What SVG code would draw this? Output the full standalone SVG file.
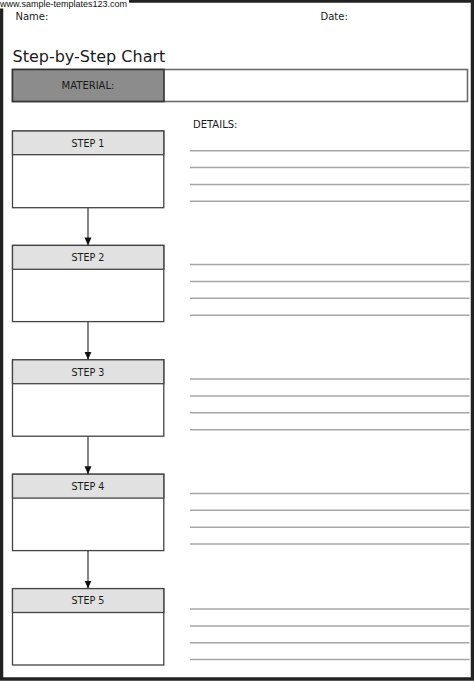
<svg xmlns="http://www.w3.org/2000/svg" width="474" height="681" viewBox="0 0 474 681">
<style>
.t{font-family:"DejaVu Sans",Verdana,sans-serif;fill:#1a1a1a}
.box{fill:#fff;stroke:#444;stroke-width:1.3}
.hdr{fill:#e1e1e1;stroke:#444;stroke-width:1.3}
.lbl{font-family:"DejaVu Sans",Verdana,sans-serif;font-size:9.6px;fill:#1a1a1a;text-anchor:middle}
.ln{stroke:#a6a6a6;stroke-width:1.5}
.conn{stroke:#333;stroke-width:1.2;fill:none}
</style>
<defs>
<marker id="ah" markerUnits="userSpaceOnUse" markerWidth="8" markerHeight="10" refX="8" refY="3.5" orient="auto">
<path d="M0,0 L8,3.5 L0,7 Z" fill="#111"/>
</marker>
</defs>
<rect x="0" y="0" width="474" height="681" fill="#fff"/>
<rect x="1.5" y="1" width="471" height="678" fill="none" stroke="#222" stroke-width="3.5"/>
<rect x="0" y="0" width="129" height="8.5" fill="#fff"/>
<text x="0" y="7.3" font-family="Liberation Sans,Arial,sans-serif" font-size="9" fill="#111">www.sample-templates123.com</text>
<text class="t" x="15.5" y="19.5" font-size="10">Name:</text>
<text class="t" x="320.5" y="19.5" font-size="10">Date:</text>
<text class="t" x="12.5" y="61.5" font-size="16">Step-by-Step Chart</text>
<g id="material">
<rect x="12.5" y="69.5" width="455" height="32" fill="#fff" stroke="#6b6b6b" stroke-width="1.6"/>
<rect x="12.5" y="69.5" width="151.5" height="32" fill="#8c8c8c" stroke="#333" stroke-width="1.6"/>
<text class="t" x="88" y="89.3" font-size="10" text-anchor="middle">MATERIAL:</text>
</g>
<text class="t" x="193" y="128.3" font-size="10">DETAILS:</text>
<g id="step1">
<rect class="box" x="12.5" y="131" width="151.3" height="76.7"/>
<rect class="hdr" x="12.5" y="131" width="151.3" height="23.7"/>
<text class="lbl" x="88" y="146.8">STEP 1</text>
</g>
<g id="step2">
<rect class="box" x="12.5" y="245.4" width="151.3" height="76.2"/>
<rect class="hdr" x="12.5" y="245.4" width="151.3" height="23.9"/>
<text class="lbl" x="88" y="261.2">STEP 2</text>
</g>
<g id="step3">
<rect class="box" x="12.5" y="359.8" width="151.3" height="76.4"/>
<rect class="hdr" x="12.5" y="359.8" width="151.3" height="23.9"/>
<text class="lbl" x="88" y="375.6">STEP 3</text>
</g>
<g id="step4">
<rect class="box" x="12.5" y="474.2" width="151.3" height="76.4"/>
<rect class="hdr" x="12.5" y="474.2" width="151.3" height="23.9"/>
<text class="lbl" x="88" y="490">STEP 4</text>
</g>
<g id="step5">
<rect class="box" x="12.5" y="588.6" width="151.3" height="76.4"/>
<rect class="hdr" x="12.5" y="588.6" width="151.3" height="23.9"/>
<text class="lbl" x="88" y="604.4">STEP 5</text>
</g>
<g id="details">
<line class="ln" x1="190" y1="150.7" x2="469.5" y2="150.7"/>
<line class="ln" x1="190" y1="167.6" x2="469.5" y2="167.6"/>
<line class="ln" x1="190" y1="184.5" x2="469.5" y2="184.5"/>
<line class="ln" x1="190" y1="201.3" x2="469.5" y2="201.3"/>
<line class="ln" x1="190" y1="264.5" x2="469.5" y2="264.5"/>
<line class="ln" x1="190" y1="281.4" x2="469.5" y2="281.4"/>
<line class="ln" x1="190" y1="298.3" x2="469.5" y2="298.3"/>
<line class="ln" x1="190" y1="315.2" x2="469.5" y2="315.2"/>
<line class="ln" x1="190" y1="379" x2="469.5" y2="379"/>
<line class="ln" x1="190" y1="395.9" x2="469.5" y2="395.9"/>
<line class="ln" x1="190" y1="412.8" x2="469.5" y2="412.8"/>
<line class="ln" x1="190" y1="429.7" x2="469.5" y2="429.7"/>
<line class="ln" x1="190" y1="493.4" x2="469.5" y2="493.4"/>
<line class="ln" x1="190" y1="510.3" x2="469.5" y2="510.3"/>
<line class="ln" x1="190" y1="527.2" x2="469.5" y2="527.2"/>
<line class="ln" x1="190" y1="544.1" x2="469.5" y2="544.1"/>
<line class="ln" x1="190" y1="609" x2="469.5" y2="609"/>
<line class="ln" x1="190" y1="625.9" x2="469.5" y2="625.9"/>
<line class="ln" x1="190" y1="642.7" x2="469.5" y2="642.7"/>
<line class="ln" x1="190" y1="659.5" x2="469.5" y2="659.5"/>
</g>
<g id="connectors">
<line class="conn" x1="88" y1="207.7" x2="88" y2="245.4" marker-end="url(#ah)"/>
<line class="conn" x1="88" y1="321.6" x2="88" y2="359.8" marker-end="url(#ah)"/>
<line class="conn" x1="88" y1="436.2" x2="88" y2="474.2" marker-end="url(#ah)"/>
<line class="conn" x1="88" y1="550.6" x2="88" y2="588.6" marker-end="url(#ah)"/>
</g>
</svg>
